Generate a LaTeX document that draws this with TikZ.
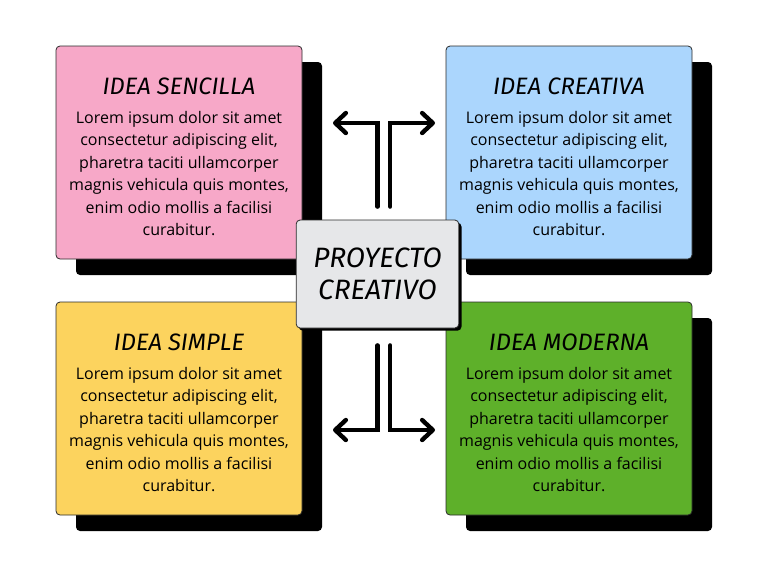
\documentclass[tikz,border=0pt]{standalone}
\usepackage{fontspec}
\setmainfont{Open Sans}
\newfontfamily\handfont{Fira Sans}
\usetikzlibrary{positioning,arrows.meta,calc,shadows}
\definecolor{ideapink}{HTML}{F7A8C8}
\definecolor{ideablue}{HTML}{ABD6FD}
\definecolor{ideayellow}{HTML}{FCD35E}
\definecolor{ideagreen}{HTML}{5EB02A}
\definecolor{ideagray}{HTML}{E6E7E9}
\definecolor{ideadark}{HTML}{2A2A2A}
\newcommand{\ideatitle}[1]{{\rule{0pt}{19pt}\handfont\itshape\fontsize{17.8}{20}\selectfont #1}\\[5pt]}
\newcommand{\ideatext}{Lorem ipsum dolor sit amet\\consectetur adipiscing elit,\\pharetra taciti ullamcorper\\magnis vehicula quis montes,\\enim odio mollis a facilisi\\curabitur.}

\begin{document}
\begin{tikzpicture}[x=0.75pt,y=-0.75pt, >={Straight Barb[length=8pt,width=15pt,round]},
    every node/.style={font=\fontsize{12}{16.9}\selectfont},
    ideabox/.style={draw=ideadark,line width=0.6pt,rounded corners=3pt,minimum width=184.5pt,minimum height=159.75pt,align=center,
      general shadow={fill=black,shadow xshift=15pt,shadow yshift=-12pt}},
    link/.style={draw=black,line width=3.3pt,line cap=round,line join=miter}]
  \useasboundingbox (0,0) rectangle (768,576);
  \node[ideabox,fill=ideapink] (sencilla) at (179,152.5) {\ideatitle{IDEA SENCILLA}\ideatext};
  \node[ideabox,fill=ideablue] (creativa) at (569,152.5) {\ideatitle{IDEA CREATIVA}\ideatext};
  \node[ideabox,fill=ideayellow] (simple) at (179,408.5) {\ideatitle{IDEA SIMPLE}\ideatext};
  \node[ideabox,fill=ideagreen] (moderna) at (569,408.5) {\ideatitle{IDEA MODERNA}\ideatext};
  % centro
  \node[draw=ideadark,line width=0.6pt,fill=ideagray,rounded corners=3pt,minimum width=122pt,minimum height=81pt,align=center,
    general shadow={fill=black,shadow xshift=2pt,shadow yshift=-2pt},
    font=\handfont\itshape\fontsize{21}{24}\selectfont] (ctr) at (377.5,274) {PROYECTO\\CREATIVO};
  \coordinate (tl) at (333,123);
  \coordinate (tr) at (435,123);
  \coordinate (bl) at (333,430);
  \coordinate (br) at (435,430);
  \draw[link,->] ([yshift=9.75pt]ctr.north) |- (tl);
  \draw[link,->] ([xshift=9.5pt,yshift=9.75pt]ctr.north) |- (tr);
  \draw[link,->] ([yshift=-12.75pt]ctr.south) |- (bl);
  \draw[link,->] ([xshift=9.5pt,yshift=-12.75pt]ctr.south) |- (br);
\end{tikzpicture}
\end{document}
